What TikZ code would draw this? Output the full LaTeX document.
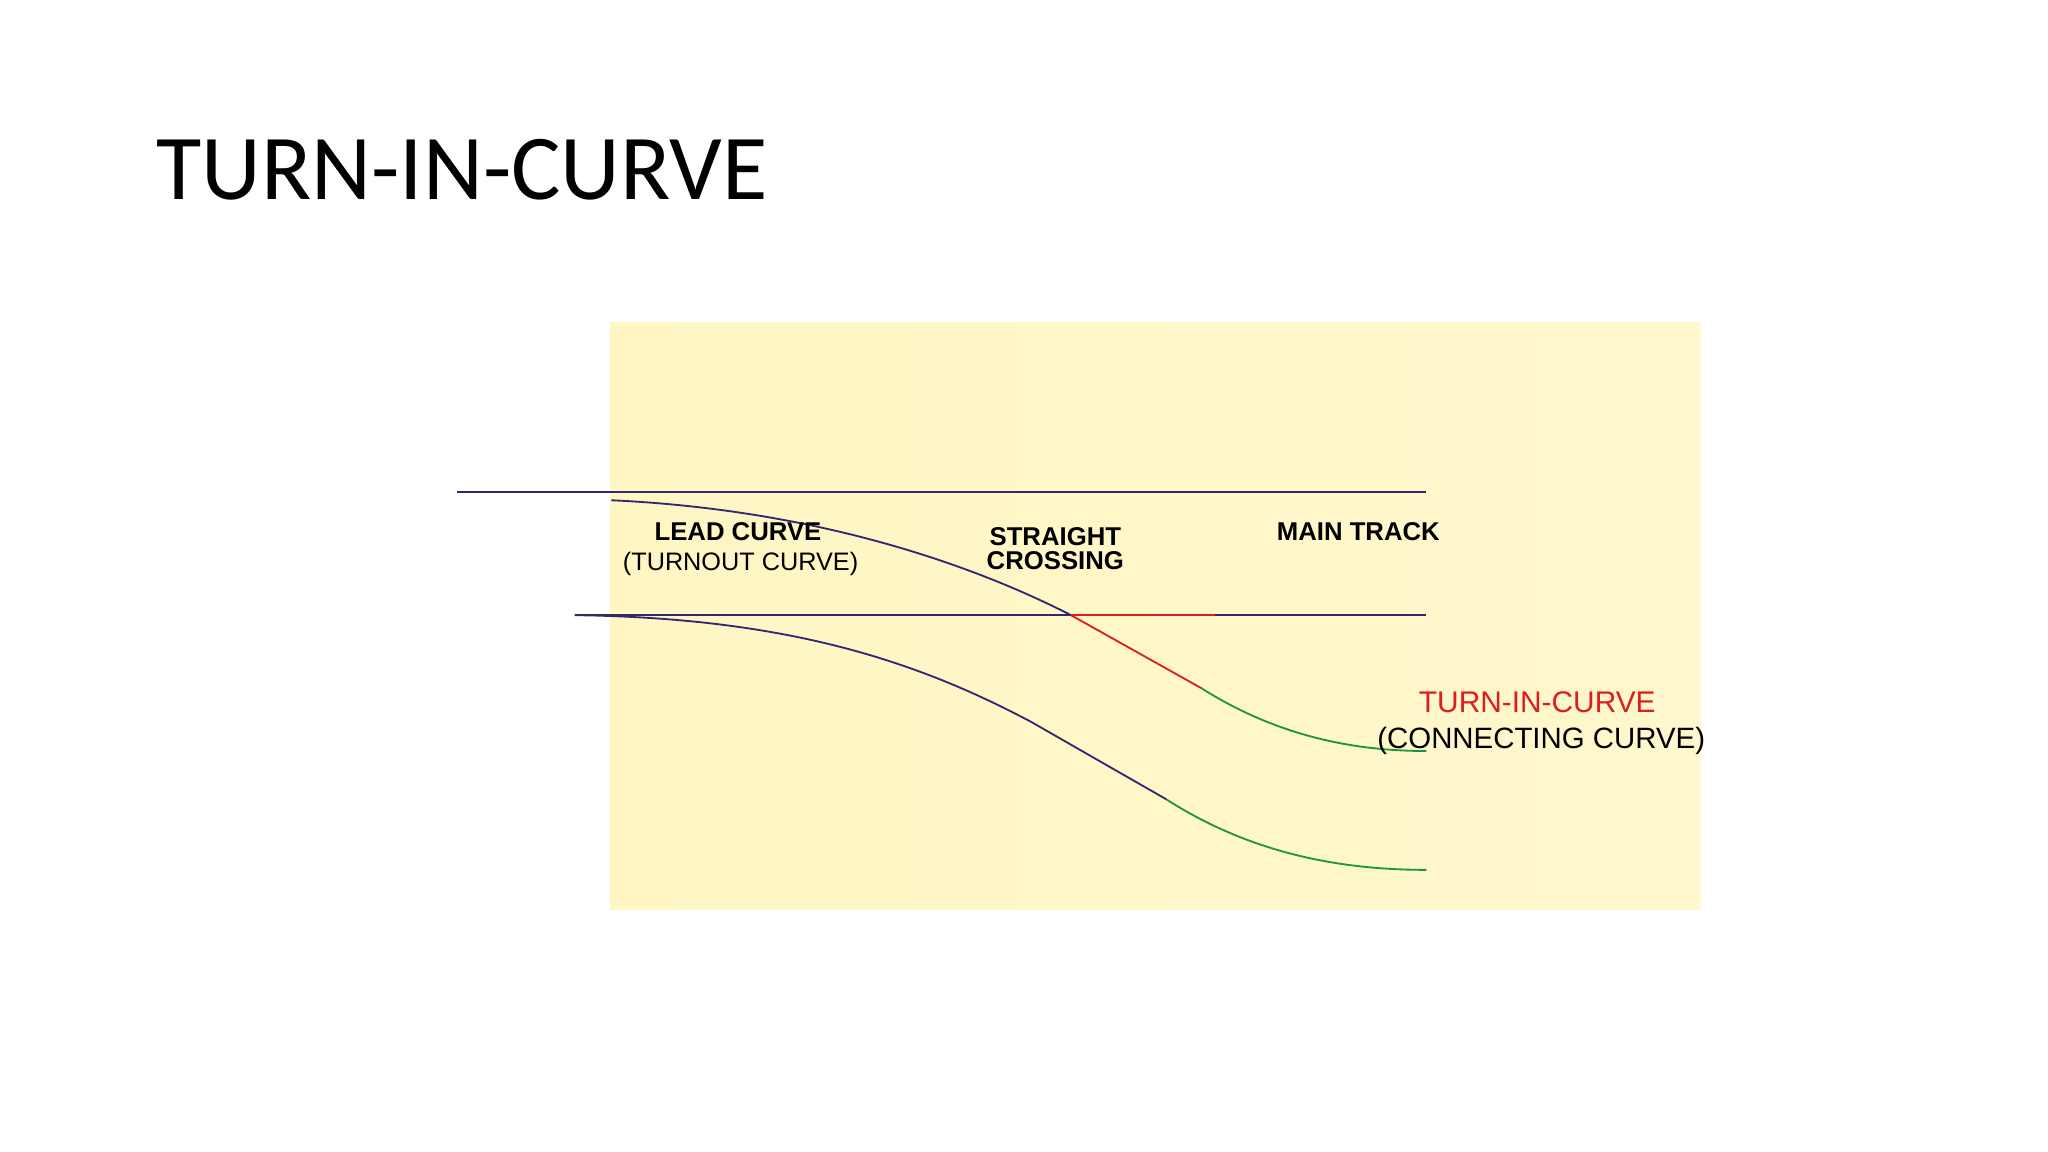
\documentclass[tikz,border=0pt]{standalone}
\usepackage{fontspec}
\setmainfont{Liberation Sans}
\newfontfamily\titlefont{Carlito}
\definecolor{bgy}{RGB}{255,246,196}
\definecolor{trk}{RGB}{50,40,110}
\definecolor{grn}{RGB}{30,150,60}
\definecolor{rd}{RGB}{220,30,30}
\tikzset{lab/.style={font=\fontsize{5.6}{6}\selectfont\bfseries,inner sep=0pt},
 labr/.style={font=\fontsize{5.5}{6}\selectfont,inner sep=0pt},
 tr/.style={draw=trk,line width=0.4pt}}
\begin{document}
\begin{tikzpicture}[x=0.01cm,y=-0.01cm]
\useasboundingbox (0,0) rectangle (1568,882);
\node[font=\titlefont\fontsize{20.2}{24}\selectfont,anchor=base west,inner sep=0pt] (title) at (119,153) {TURN-IN-CURVE};
\fill[left color=bgy,right color=bgy!85!white] (467,247) rectangle (1302,696);
\coordinate (t1) at (350,377); \coordinate (t2) at (1092,377);
\draw[tr] (t1) -- (t2);
\coordinate (m1) at (440,471); \coordinate (m2) at (820,471); \coordinate (m3) at (930,471); \coordinate (m4) at (1092,471);
\draw[tr] (m1) -- (m2); \draw[rd,line width=0.4pt] (m2) -- (m3); \draw[tr] (m3) -- (m4);
\coordinate (a1) at (468,383); \coordinate (a3) at (920,527); \coordinate (a4) at (1092,575);
\draw[tr] (a1) .. controls (620,390) and (740,430) .. (m2);
\draw[rd,line width=0.4pt] (m2) -- (a3);
\draw[grn,line width=0.4pt] (a3) .. controls (980,565) and (1040,575) .. (a4);
\coordinate (b2) at (790,553); \coordinate (b3) at (893,612); \coordinate (b4) at (1092,666);
\draw[tr] (m1) .. controls (600,473) and (700,505) .. (b2) -- (b3);
\draw[grn,line width=0.4pt] (b3) .. controls (960,655) and (1030,666) .. (b4);
\node[lab] (lc) at (565,407) {LEAD CURVE};
\node[labr] (tc) at (567,432) {(TURNOUT CURVE)};
\node[lab,align=center,font=\fontsize{5.6}{5.4}\selectfont\bfseries] (sc) at (808,420) {STRAIGHT\\CROSSING};
\node[lab] (mt) at (1040,407) {MAIN TRACK};
\node[labr,text=rd,font=\fontsize{6.5}{7}\selectfont] (tic) at (1177,538) {TURN-IN-CURVE};
\node[labr,font=\fontsize{6.4}{7}\selectfont] (cc) at (1180,567) {(CONNECTING CURVE)};
\end{tikzpicture}
\end{document}
